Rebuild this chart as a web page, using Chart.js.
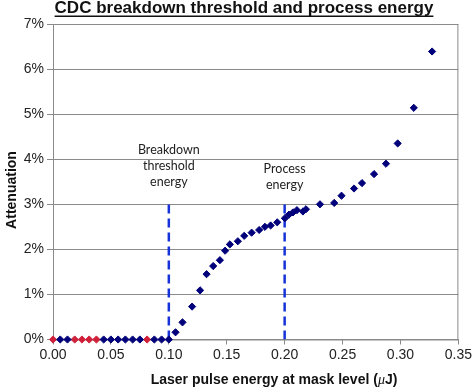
<!DOCTYPE html>
<html>
<head>
<meta charset="utf-8">
<script src="https://cdn.jsdelivr.net/npm/chart.js@4"></script>
<style>
  html, body { margin: 0; padding: 0; background: #fff; }
  #wrap { width: 474px; height: 389px; }
</style>
</head>
<body>
<div id="wrap"><canvas id="chart1" width="474" height="389"></canvas></div>
<script>
// pulse energy at mask level (uJ) / attenuation (%)
var zeroBlueX = [0.00625, 0.0125, 0.04375, 0.05, 0.05625, 0.0625, 0.06875, 0.075, 0.0875, 0.09375, 0.1];
var zeroRedX = [0, 0.01875, 0.025, 0.03125, 0.0375, 0.08125];

var riseX = [0.1058, 0.1118, 0.1201, 0.1270, 0.1326, 0.1383, 0.1441, 0.1486, 0.1527, 0.1596,
             0.1651, 0.1715, 0.1780, 0.1830, 0.1879, 0.1936, 0.2002, 0.2037, 0.2072, 0.2106,
             0.2158, 0.2184, 0.2305, 0.2428, 0.2491, 0.2599, 0.2668, 0.2772, 0.2875, 0.2976,
             0.3115, 0.3273];
var riseY = [0.16, 0.38, 0.73, 1.09, 1.45, 1.63, 1.76, 1.97, 2.11, 2.18,
             2.30, 2.37, 2.43, 2.50, 2.53, 2.60, 2.69, 2.77, 2.82, 2.87,
             2.84, 2.89, 3.00, 3.03, 3.19, 3.35, 3.47, 3.67, 3.90, 4.35,
             5.14, 6.39];

var thresholdX = 0.1;
var processX = 0.2;
var markerTop = 3.1;

var xTicks = [0, 0.05, 0.1, 0.15, 0.2, 0.25, 0.3, 0.35];

var navy = "#00007a";
var red = "#d0203a";
var dashBlue = "#1533d8";

var toPoints = (xs, ys) => xs.map((x, i) => ({ x: x, y: ys ? ys[i] : 0 }));

var vline = (x) => ({
    type: "line",
    data: [{ x: x, y: 0 }, { x: x, y: markerTop }],
    borderColor: dashBlue,
    borderWidth: 2.5,
    borderDash: [9, 5],
    pointRadius: 0,
    order: 3
});

var diamonds = (pts, color) => ({
    data: pts,
    backgroundColor: color,
    borderColor: color,
    pointStyle: "rectRot",
    pointRadius: 3.6,
    clip: false,
    order: 1
});

var notes = [
    { x: thresholdX, lines: ["Breakdown", "threshold", "energy"], top: 150 },
    { x: processX, lines: ["Process", "energy"], top: 169 }
];

var textPlugin = {
    id: "texts",
    afterDraw: chart => {
        var ctx = chart.ctx;
        var xs = chart.scales.x;
        ctx.save();
        ctx.fillStyle = "#111";
        ctx.textAlign = "center";
        ctx.textBaseline = "middle";

        // title with underline
        ctx.font = "bold 17px 'Liberation Sans', Arial, sans-serif";
        var title = "CDC breakdown threshold and process energy";
        var tw = ctx.measureText(title).width;
        ctx.fillText(title, 244, 8);
        ctx.fillRect(244 - tw / 2, 15.5, tw, 1.5);

        // notes near the dashed lines
        ctx.font = "12.5px Lato, 'Open Sans', sans-serif";
        ctx.fillStyle = "#222";
        notes.forEach(n => {
            var px = xs.getPixelForValue(n.x);
            n.lines.forEach((l, i) => ctx.fillText(l, px, n.top + i * 16));
        });

        // x axis title
        ctx.fillStyle = "#111";
        var bold = "bold 14px 'Liberation Sans', Arial, sans-serif";
        var ital = "italic 14px 'Liberation Serif', serif";
        var a = "Laser pulse energy at mask level (";
        var b = "\u03bc";
        var c = "J)";
        ctx.font = bold;
        var wa = ctx.measureText(a).width;
        var wc = ctx.measureText(c).width;
        ctx.font = ital;
        var wb = ctx.measureText(b).width;
        var start = 274 - (wa + wb + wc) / 2;
        ctx.textAlign = "left";
        ctx.font = bold;
        ctx.fillText(a, start, 380);
        ctx.font = ital;
        ctx.fillText(b, start + wa, 380);
        ctx.font = bold;
        ctx.fillText(c, start + wa + wb, 380);

        // y axis title
        ctx.translate(12, 190);
        ctx.rotate(-Math.PI / 2);
        ctx.textAlign = "center";
        ctx.fillText("Attenuation", 0, 0);
        ctx.restore();
    }
};

var frame = {
    id: "frame",
    beforeDatasetsDraw: chart => {
        var a = chart.chartArea;
        var ctx = chart.ctx;
        ctx.save();
        ctx.strokeStyle = "#8a8a8a";
        ctx.lineWidth = 1;
        ctx.strokeRect(a.left + 0.5, a.top + 0.5, a.right - a.left - 1, a.bottom - a.top);
        ctx.restore();
    }
};

var config = {
    type: "scatter",
    data: {
        datasets: [
            diamonds(toPoints(riseX, riseY), navy),
            diamonds(toPoints(zeroBlueX), navy),
            diamonds(toPoints(zeroRedX), red),
            vline(thresholdX),
            vline(processX)
        ]
    },
    options: {
        responsive: false,
        animation: false,
        layout: { padding: { top: 24, right: 15, left: 0, bottom: 0 } },
        plugins: {
            legend: { display: false },
            tooltip: { enabled: false }
        },
        scales: {
            x: {
                type: "linear",
                min: 0,
                max: 0.35,
                afterFit: s => { s.height = 49.5; },
                afterBuildTicks: s => { s.ticks = xTicks.map(v => ({ value: v })); },
                grid: {
                    display: true,
                    drawOnChartArea: false,
                    drawTicks: true,
                    tickLength: 5,
                    color: "#8a8a8a"
                },
                border: { color: "#8a8a8a" },
                ticks: {
                    color: "#222",
                    padding: 2,
                    font: { family: "'Liberation Sans', Arial, sans-serif", size: 14 },
                    callback: v => v.toFixed(2)
                }
            },
            y: {
                min: 0,
                max: 7,
                afterFit: s => { s.width = 53; },
                grid: {
                    color: "#8a8a8a",
                    tickLength: 6
                },
                border: { color: "#8a8a8a" },
                ticks: {
                    stepSize: 1,
                    color: "#222",
                    padding: 3,
                    font: { family: "'Liberation Sans', Arial, sans-serif", size: 14 },
                    callback: v => v + "%"
                }
            }
        }
    },
    plugins: [frame, textPlugin]
};

var ctx = document.getElementById("chart1").getContext("2d");
var chart = new Chart(ctx, config);
</script>
</body>
</html>
